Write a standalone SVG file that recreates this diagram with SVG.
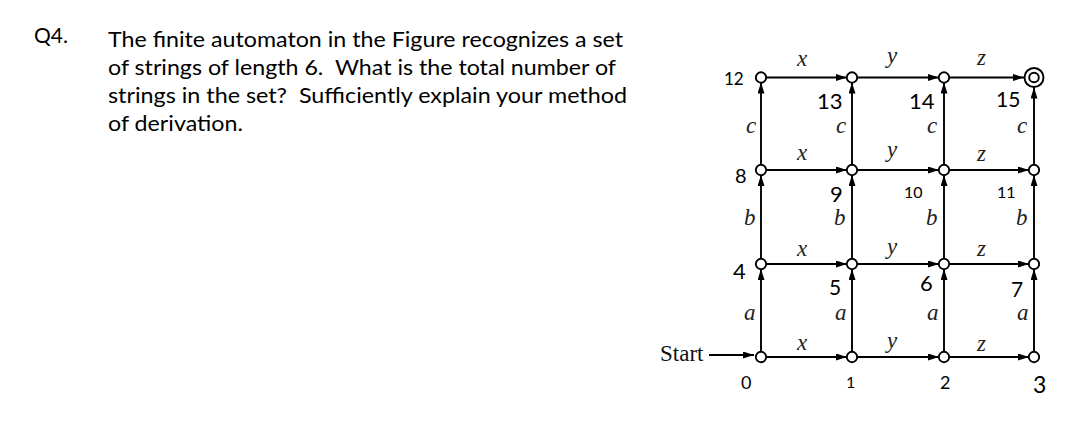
<svg xmlns="http://www.w3.org/2000/svg" width="1090" height="444" viewBox="0 0 1090 444">
<defs>
<marker id="ah" markerUnits="userSpaceOnUse" markerWidth="12" markerHeight="8" refX="11" refY="3.5" orient="auto">
<path d="M0,0 L11,3.5 L0,7 z" fill="#000"/>
</marker>
<style>
.q{font-family:Lato,"Liberation Sans",sans-serif;font-size:21px;fill:#000;white-space:pre}
.n{font-family:Lato,"Liberation Sans",sans-serif;fill:#000}
.e{font-family:"Liberation Serif",serif;font-style:italic;font-size:23px;fill:#222}
.st{font-family:"Liberation Serif",serif;font-size:23px;fill:#111}
.edge{stroke:#000;stroke-width:1.9;fill:none;marker-end:url(#ah)}
.node{fill:#fff;stroke:#000;stroke-width:1.9}
</style>
</defs>
<rect width="1090" height="444" fill="#fff"/>

<g id="question">
<text class="q" x="34" y="43" font-size="20">Q4.</text>
<text class="q" x="108" y="47" textLength="515" lengthAdjust="spacingAndGlyphs">The finite automaton in the Figure recognizes a set</text>
<text class="q" x="108" y="75" textLength="508" lengthAdjust="spacingAndGlyphs" xml:space="preserve">of strings of length 6.  What is the total number of</text>
<text class="q" x="108" y="103" textLength="519" lengthAdjust="spacingAndGlyphs" xml:space="preserve">strings in the set?  Sufficiently explain your method</text>
<text class="q" x="108" y="131" textLength="135" lengthAdjust="spacingAndGlyphs">of derivation.</text>
</g>

<g id="connectors">
<line class="edge" x1="709" y1="355" x2="754" y2="355"/>
<line class="edge" x1="766" y1="357" x2="847" y2="357"/>
<line class="edge" x1="857" y1="357" x2="939" y2="357"/>
<line class="edge" x1="949" y1="357" x2="1029" y2="357"/>
<line class="edge" x1="766" y1="264" x2="847" y2="264"/>
<line class="edge" x1="857" y1="264" x2="939" y2="264"/>
<line class="edge" x1="949" y1="264" x2="1029" y2="264"/>
<line class="edge" x1="766" y1="170" x2="847" y2="170"/>
<line class="edge" x1="857" y1="170" x2="939" y2="170"/>
<line class="edge" x1="949" y1="170" x2="1029" y2="170"/>
<line class="edge" x1="766" y1="77.5" x2="847" y2="77.5"/>
<line class="edge" x1="857" y1="77.5" x2="939" y2="77.5"/>
<line class="edge" x1="949" y1="77.5" x2="1024" y2="77.5"/>
<line class="edge" x1="761" y1="352" x2="761" y2="269"/>
<line class="edge" x1="852" y1="352" x2="852" y2="269"/>
<line class="edge" x1="944" y1="352" x2="944" y2="269"/>
<line class="edge" x1="1034" y1="352" x2="1034" y2="269"/>
<line class="edge" x1="761" y1="259" x2="761" y2="175"/>
<line class="edge" x1="852" y1="259" x2="852" y2="175"/>
<line class="edge" x1="944" y1="259" x2="944" y2="175"/>
<line class="edge" x1="1034" y1="259" x2="1034" y2="175"/>
<line class="edge" x1="761" y1="165" x2="761" y2="82.5"/>
<line class="edge" x1="852" y1="165" x2="852" y2="82.5"/>
<line class="edge" x1="944" y1="165" x2="944" y2="82.5"/>
<line class="edge" x1="1034" y1="165" x2="1034" y2="87.5"/>
</g>

<g id="edge-labels">
<text class="st" x="660" y="361">Start</text>
<text class="e" x="797" y="66">x</text>
<text class="e" x="887" y="63">y</text>
<text class="e" x="977" y="65">z</text>
<text class="e" x="797" y="160">x</text>
<text class="e" x="887" y="157">y</text>
<text class="e" x="977" y="161">z</text>
<text class="e" x="797" y="256">x</text>
<text class="e" x="887" y="254">y</text>
<text class="e" x="977" y="256">z</text>
<text class="e" x="797" y="350">x</text>
<text class="e" x="887" y="348">y</text>
<text class="e" x="977" y="351">z</text>
<text class="e" x="746" y="133">c</text>
<text class="e" x="836" y="133">c</text>
<text class="e" x="927" y="133">c</text>
<text class="e" x="1017" y="133">c</text>
<text class="e" x="744" y="225">b</text>
<text class="e" x="834" y="225">b</text>
<text class="e" x="926" y="225">b</text>
<text class="e" x="1016" y="225">b</text>
<text class="e" x="744" y="320">a</text>
<text class="e" x="835" y="320">a</text>
<text class="e" x="927" y="320">a</text>
<text class="e" x="1017" y="320">a</text>
</g>

<g id="node0"><circle class="node" cx="761" cy="357" r="5.2"/><text class="n" x="741" y="389" font-size="18">0</text></g>
<g id="node1"><circle class="node" cx="852" cy="357" r="5.2"/><text class="n" x="846" y="388" font-size="16">1</text></g>
<g id="node2"><circle class="node" cx="944" cy="357" r="5.2"/><text class="n" x="940" y="389" font-size="18">2</text></g>
<g id="node3"><circle class="node" cx="1034" cy="357" r="5.2"/><text class="n" x="1033" y="393" font-size="23">3</text></g>
<g id="node4"><circle class="node" cx="761" cy="264" r="5.2"/><text class="n" x="733" y="279" font-size="22">4</text></g>
<g id="node5"><circle class="node" cx="852" cy="264" r="5.2"/><text class="n" x="829" y="295" font-size="21">5</text></g>
<g id="node6"><circle class="node" cx="944" cy="264" r="5.2"/><text class="n" x="920" y="291" font-size="22">6</text></g>
<g id="node7"><circle class="node" cx="1034" cy="264" r="5.2"/><text class="n" x="1011" y="297" font-size="21">7</text></g>
<g id="node8"><circle class="node" cx="761" cy="170" r="5.2"/><text class="n" x="735" y="183" font-size="20">8</text></g>
<g id="node9"><circle class="node" cx="852" cy="170" r="5.2"/><text class="n" x="830" y="202" font-size="22">9</text></g>
<g id="node10"><circle class="node" cx="944" cy="170" r="5.2"/><text class="n" x="904" y="198" font-size="16">10</text></g>
<g id="node11"><circle class="node" cx="1034" cy="170" r="5.2"/><text class="n" x="997" y="198" font-size="16">11</text></g>
<g id="node12"><circle class="node" cx="761" cy="77.5" r="5.2"/><text class="n" x="724" y="85" font-size="17">12</text></g>
<g id="node13"><circle class="node" cx="852" cy="77.5" r="5.2"/><text class="n" x="817" y="109" font-size="22">13</text></g>
<g id="node14"><circle class="node" cx="944" cy="77.5" r="5.2"/><text class="n" x="909" y="109" font-size="22">14</text></g>
<g id="node15"><circle class="node" cx="1034" cy="77.5" r="9.5"/><circle class="node" cx="1034" cy="77.5" r="4.8"/><text class="n" x="996" y="107" font-size="21">15</text></g>
</svg>
